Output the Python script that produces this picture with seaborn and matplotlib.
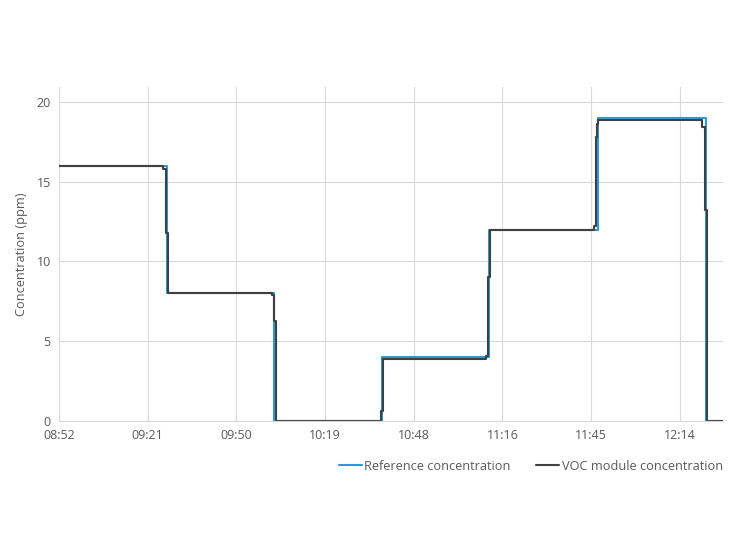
import numpy as np
import pandas as pd
import matplotlib
matplotlib.use('Agg')
import matplotlib.pyplot as plt
import seaborn as sns

# Time in minutes after midnight, concentration in ppm (step-wise)
ref_time = [532.8, 567.9, 602.6, 637.7, 672.4, 707.8, 742.9, 748.4]
ref_conc = [16.0, 8.0, 0.0, 4.0, 12.0, 19.0, 0.0, 0.0]

voc_time = [532.8, 566.6, 567.5, 568.2, 602.0, 602.6, 603.3, 637.2, 637.5, 638.0,
            671.4, 672.1, 672.7, 706.5, 707.2, 707.5, 707.8, 741.6, 742.6,
            743.2, 748.4]
voc_conc = [16.0, 15.8, 11.8, 8.05, 7.9, 6.3, 0.0, 0.3, 0.6, 3.87,
            4.1, 9.0, 11.95, 12.2, 17.8, 18.6, 18.85, 18.45, 13.2,
            0.0, 0.0]

tick_minutes = [532.8 + 28.8 * i for i in range(8)]
tick_labels = ['08:52', '09:21', '09:50', '10:19', '10:48', '11:16', '11:45', '12:14']

ref_df = pd.DataFrame({'time': ref_time, 'conc': ref_conc})
voc_df = pd.DataFrame({'time': voc_time, 'conc': voc_conc})

sns.set_theme(style='whitegrid')
plt.rcParams['font.family'] = ['Open Sans', 'DejaVu Sans']

fig = plt.figure(figsize=(7.5, 5.59), dpi=100)
ax = fig.add_axes([59 / 750, 1 - 421 / 559, (723 - 59) / 750, (421 - 87) / 559])

sns.lineplot(data=ref_df, x='time', y='conc', ax=ax, color='#2E9BD6', linewidth=1.5,
             drawstyle='steps-post', label='Reference concentration')
sns.lineplot(data=voc_df, x='time', y='conc', ax=ax, color='#404040', linewidth=1.5,
             drawstyle='steps-post', label='VOC module concentration')

ax.set_xlim(532.8, 748.4)
ax.set_ylim(0, 20.94)
ax.set_xticks(tick_minutes)
ax.set_xticklabels(tick_labels)
ax.set_yticks([0, 5, 10, 15, 20])
ax.set_xlabel('')
ax.set_ylabel('Concentration (ppm)', fontsize=9.2, color='#595959', labelpad=6)

ax.grid(True, color='#D9D9D9', linewidth=0.8)
for side in ['top', 'right', 'left']:
    ax.spines[side].set_visible(False)
ax.spines['bottom'].set_color('#D9D9D9')
ax.spines['bottom'].set_linewidth(0.8)
ax.tick_params(axis='both', labelsize=9, colors='#595959', length=0, pad=6)

ax.legend(loc='center right', bbox_to_anchor=(1.0, -0.135), ncol=2, frameon=False,
          fontsize=9.2, handlelength=1.8, handletextpad=0.2, columnspacing=2.0,
          borderpad=0, borderaxespad=0, labelcolor='#595959')

fig.savefig('out.png', dpi=100)
